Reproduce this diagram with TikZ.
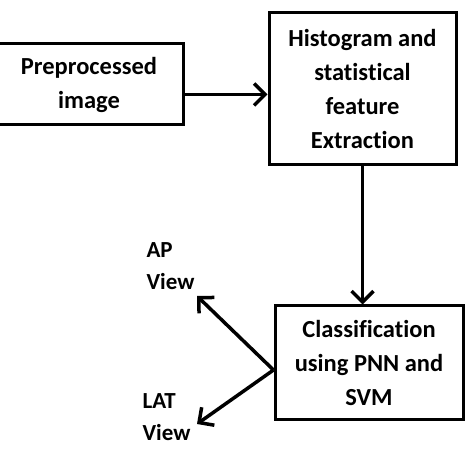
\documentclass[tikz,border=0pt]{standalone}
\usepackage{fontspec}
\setmainfont{Carlito}[Ligatures=NoCommon]
\usetikzlibrary{arrows.meta,calc}
\tikzset{
  block/.style={draw, line width=3pt, align=center,
    font=\fontsize{24.5}{34}\selectfont\bfseries},
  flow/.style={line width=3.5pt, -{Straight Barb[length=11pt,width=22pt]}},
  viewlabel/.style={align=left, anchor=west,
    font=\fontsize{23}{32}\selectfont\bfseries},
}
\begin{document}
\begin{tikzpicture}[x=1pt,y=1pt]
        \useasboundingbox (0,0) rectangle (474,474);
        % the three boxes
        \node[block, minimum width=188pt, minimum height=81pt]  (pre)   at ( 89,389.5) {Preprocessed\\image};
        \node[block, minimum width=187pt, minimum height=152pt] (hist)  at (362.5,385) {Histogram and\\statistical\\feature\\Extraction};
        \node[block, minimum width=188pt, minimum height=114pt] (class) at (369,111)   {Classification\\using PNN and\\SVM};
        % the two views
        \node[viewlabel] (ap)  at (143,208)  {AP\\View};
        \node[viewlabel] (lat) at (139,56.5) {LAT\\View};
        % coordinates for the arrows
        \coordinate (preout) at ($(pre.east)+(0,-10)$);
        \coordinate (fork)   at ($(class.west)+(0,-7)$);
        \coordinate (aptip)  at (197,178);
        \coordinate (lattip) at (197,50);
        % drawing the arrows
        \draw[flow] (preout) -- (preout -| hist.west);
        \draw[flow] (hist.south) -- (hist.south |- class.north);
        \draw[flow] (fork) -- (aptip);
        \draw[flow] (fork) -- (lattip);
      \end{tikzpicture}
\end{document}
